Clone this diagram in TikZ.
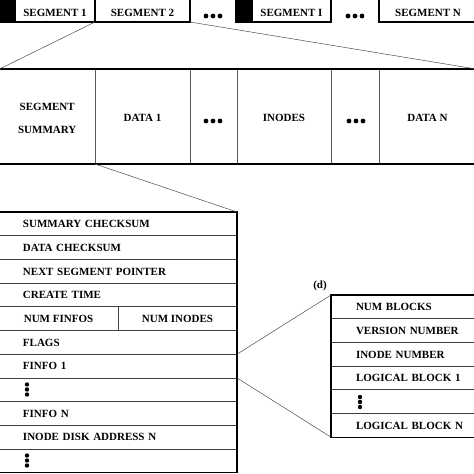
\documentclass[tikz,border=0pt]{standalone}
\usepackage{fontspec}
\setmainfont{Liberation Serif}
\usetikzlibrary{positioning}

\tikzset{
  fnt/.style={font=\bfseries\fontsize{11}{13}\selectfont},
  seg/.style={draw, line width=1.2pt, fnt, inner sep=0pt, outer sep=0pt,
    minimum height=24pt, text height=12pt, text depth=0pt},
  cell/.style={draw=black!65, line width=0.6pt, fnt, inner sep=0pt, outer sep=0pt,
    minimum height=95pt, text height=10.5pt, text depth=0pt},
  rowbase/.style={draw=black!75, line width=0.8pt, fnt, inner sep=0pt, outer sep=0pt,
    minimum height=23.7pt, text height=7.5pt, text depth=0pt},
  row/.style={rowbase, inner xsep=24pt, text width=190pt, align=left},
  rrow/.style={rowbase, anchor=west, inner xsep=25pt, text width=120pt, align=left},
  half/.style={rowbase, minimum width=119pt},
  frame/.style={line width=1.4pt},
  link/.style={draw=black!70, line width=0.5pt}
}

\begin{document}
\begin{tikzpicture}[x=1pt,y=-1pt]
  \useasboundingbox (0,0) rectangle (474,474);

  % segments on the disk
  \node[seg, minimum width=18pt, fill=black] (blka) at (6,10) {};
  \node[seg, minimum width=80pt] (sega) at (55,10) {SEGMENT 1};
  \node[seg, minimum width=95pt] (segb) at (142.5,10) {SEGMENT 2};
  \node[seg, minimum width=16pt, fill=black] (blkb) at (244,10) {};
  \node[seg, minimum width=79pt] (segi) at (291.5,10) {SEGMENT I};
  \node[seg, minimum width=98pt] (segn) at (428,10) {SEGMENT N};

  % one segment
  \node[cell, minimum width=95.5pt, align=center, text height=33.4pt,
    font=\bfseries\fontsize{11}{23}\selectfont]
    (summ) at (47.25,116.5) {SEGMENT\\SUMMARY};
  \node[cell, minimum width=95pt] (dataa) at (142.5,116.5) {DATA 1};
  \node[cell, minimum width=47pt] (dotsa) at (213.5,116.5) {};
  \node[cell, minimum width=94pt] (inodes) at (284,116.5) {INODES};
  \node[cell, minimum width=48pt] (dotsb) at (355,116.5) {};
  \node[cell, minimum width=97pt] (datan) at (427.5,116.5) {DATA N};
  \draw[frame] (summ.north west) rectangle (datan.south east);

  % segment summary
  \node[row] (r1) at (118,223.85) {SUMMARY CHECKSUM};
  \node[row] (r2) at (118,247.55) {DATA CHECKSUM};
  \node[row] (r3) at (118,271.25) {NEXT SEGMENT POINTER};
  \node[row] (r4) at (118,294.95) {CREATE TIME};
  \node[half] (fin) at (58.5,318.65) {NUM FINFOS};
  \node[half] (ino) at (177.5,318.65) {NUM INODES};
  \node[row] (r6) at (118,342.35) {FLAGS};
  \node[row] (r7) at (118,366.05) {FINFO 1};
  \node[row] (r8) at (118,389.75) {};
  \node[row] (r9) at (118,413.45) {FINFO N};
  \node[row] (r10) at (118,437.15) {INODE DISK ADDRESS N};
  \node[row] (r11) at (118,460.85) {};
  \draw[frame] (r1.north west) rectangle (r11.south east);

  % finfo
  \node[fnt] (lbld) at (320,286) {(d)};
  \node[rrow] (nb) at (331,306.85) {NUM BLOCKS};
  \node[rrow] (vn) at (331,330.55) {VERSION NUMBER};
  \node[rrow] (in) at (331,354.25) {INODE NUMBER};
  \node[rrow] (lba) at (331,377.95) {LOGICAL BLOCK 1};
  \node[rrow] (lbd) at (331,401.65) {};
  \node[rrow] (lbn) at (331,425.35) {LOGICAL BLOCK N};
  \draw[frame] (nb.north west) rectangle (lbn.south east);

  % dots
  \foreach \cx/\cy in {213/16, 355/16, 213/121, 356/121}
    \foreach \dx in {-7,0,7}
      \fill (\cx+\dx,\cy) circle (2.4pt);
  \foreach \cx/\cy in {27/389.5, 27/460.5, 360/402}
    \foreach \dy in {-5,0,5}
      \fill (\cx,\cy+\dy) circle (2.2pt);

  % zoom lines
  \draw[link] (segb.south west) -- (summ.north west);
  \draw[link] (segb.south east) -- (datan.north east);
  \draw[link] (summ.south east) -- (r1.north east);
  \draw[link] (r6.south east) -- (nb.north west);
  \draw[link] (r7.south east) -- (lbn.south west);
\end{tikzpicture}
\end{document}
